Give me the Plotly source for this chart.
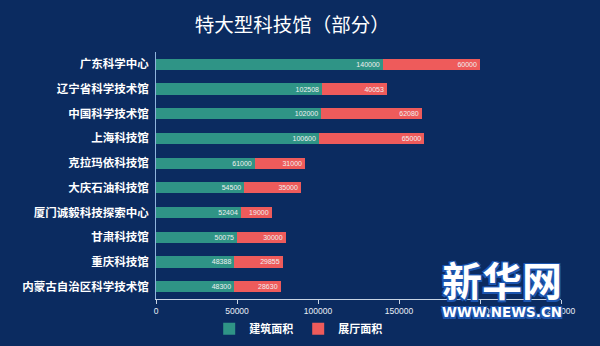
import plotly.graph_objects as go

categories = ["广东科学中心", "辽宁省科学技术馆", "中国科学技术馆", "上海科技馆", "克拉玛依科技馆",
              "大庆石油科技馆", "厦门诚毅科技探索中心", "甘肃科技馆", "重庆科技馆", "内蒙古自治区科学技术馆"]
building_area = [140000, 102508, 102000, 100600, 61000, 54500, 52404, 50075, 48388, 48300]
hall_area = [60000, 40053, 62080, 65000, 31000, 35000, 19000, 30000, 29855, 28630]
series_names = ["建筑面积", "展厅面积"]
x_ticks = [0, 50000, 100000, 150000, 200000, 250000]

BG = "#0b2b60"
TEAL = "#2f9486"
RED = "#ee5b5b"
FONT = "Noto Sans CJK SC"

fig = go.Figure()
for name, vals, col in [(series_names[0], building_area, TEAL), (series_names[1], hall_area, RED)]:
    fig.add_trace(go.Bar(
        y=categories, x=vals, name=name, orientation="h",
        marker=dict(color=col, line=dict(width=0)),
        text=[str(v) for v in vals], textposition="inside", insidetextanchor="end",
        textfont=dict(size=7, color="#f0f0f0", family="Arial"),
        textangle=0, constraintext="none", width=0.45,
    ))

fig.update_layout(
    barmode="stack",
    width=600, height=346,
    paper_bgcolor=BG, plot_bgcolor=BG,
    margin=dict(l=156, r=39, t=52, b=47, autoexpand=False),
    title=dict(text="特大型科技馆（部分）", x=0.487, xanchor="center", y=0.928, yanchor="middle",
               font=dict(size=19.5, color="#ffffff", family=FONT)),
    xaxis=dict(range=[0, 250000], tickvals=x_ticks, ticktext=[str(v) for v in x_ticks],
               showgrid=False, zeroline=False, showline=True, linecolor="#c8d4e4", linewidth=1,
               ticks="outside", ticklen=4, tickcolor="#c8d4e4",
               tickfont=dict(size=8.5, color="#e8eef6", family="Arial")),
    yaxis=dict(autorange="reversed", showgrid=False, zeroline=False,
               showline=True, linecolor="#8fb4dc", linewidth=1, ticks="", ticklen=0,
               ticklabelstandoff=4,
               tickfont=dict(size=11.5, color="#ffffff", family=FONT, weight="bold")),
    legend=dict(orientation="h", xref="container", x=0.497, xanchor="center",
                yref="container", y=0.05, yanchor="middle",
                font=dict(size=11, color="#ffffff", family=FONT, weight="bold"),
                bgcolor="rgba(0,0,0,0)", itemwidth=30, traceorder="normal"),
    showlegend=True,
    font=dict(family=FONT),
)

outline = "1.5px 1.5px 0 #1d56b0, -1.5px -1.5px 0 #1d56b0, 1.5px -1.5px 0 #1d56b0, -1.5px 1.5px 0 #1d56b0"
fig.add_annotation(text="新华网", xref="paper", yref="paper", x=0.854, y=0.082, xanchor="center", yanchor="middle",
                   showarrow=False, font=dict(size=40, color="#ffffff", family=FONT, weight="bold", shadow=outline))
fig.add_annotation(text="WWW.NEWS.CN", xref="paper", yref="paper", x=0.854, y=-0.053, xanchor="center", yanchor="middle",
                   showarrow=False, font=dict(size=13.5, color="#ffffff", family="DejaVu Sans", weight="bold", shadow=outline))

fig.write_html("out.html")
